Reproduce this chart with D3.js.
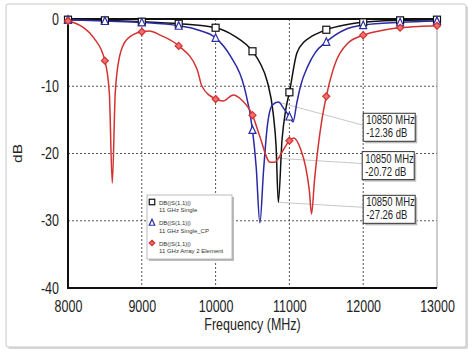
<!DOCTYPE html>
<html>
<head>
<meta charset="utf-8">
<script src="https://cdn.jsdelivr.net/npm/d3@7"></script>
<style>
  body { margin: 0; background: #fff; }
  svg { display: block; font-family: "Liberation Sans", Arial, sans-serif; }
</style>
</head>
<body>
<div id="chart"></div>
<script>
// values
const freqTicks = [8000, 9000, 10000, 11000, 12000, 13000];
const dbTicks = [0, -10, -20, -30, -40];

const singleFreq = [8000, 8500, 9000, 9500, 10000, 10250, 10500, 10600, 10700, 10780, 10820, 10850, 10900, 10950, 11000, 11100, 11200, 11300, 11500, 11750, 12000, 12500, 13000];
const singleDb = [-0.1, -0.2, -0.4, -0.7, -1.3, -2.5, -4.8, -6.5, -9.3, -14, -19, -27.26, -18, -13.5, -10.9, -5.1, -3.4, -2.6, -1.6, -0.9, -0.5, -0.2, -0.1];

const cpFreq = [8000, 8500, 9000, 9500, 9750, 10000, 10200, 10390, 10500, 10550, 10600, 10650, 10700, 10770, 10850, 10930, 11000, 11050, 11100, 11150, 11250, 11350, 11500, 11750, 12000, 12500, 13000];
const cpDb = [-0.1, -0.3, -0.5, -1.0, -1.6, -2.8, -5.5, -10.2, -16.5, -22, -30.3, -22.5, -16, -12.8, -12.36, -13.4, -14.5, -15.3, -12.5, -10, -7, -5, -3.4, -1.6, -0.9, -0.5, -0.3];

const arrayFreq = [8000, 8200, 8350, 8500, 8560, 8600, 8640, 8700, 8800, 9000, 9100, 9250, 9500, 9750, 9815, 10000, 10100, 10240, 10350, 10500, 10600, 10740, 10800, 10850, 10900, 11000, 11060, 11150, 11220, 11270, 11300, 11340, 11440, 11500, 11590, 11790, 12000, 12250, 12500, 12750, 13000];
const arrayDb = [-0.3, -1.2, -2.8, -6.2, -11, -24.4, -11, -5.5, -3, -1.9, -1.8, -2.4, -4.0, -7.5, -10, -11.9, -12.2, -11.3, -12, -14.3, -17.5, -21.3, -21.3, -20.72, -19.8, -18.1, -17.7, -19.3, -22, -25.5, -29, -24, -15, -11.5, -7.6, -3.6, -2.4, -1.7, -1.3, -1.1, -1.0];

const seriesNames = ["11 GHz Single", "11 GHz Single_CP", "11 GHz Array 2 Element"];
const seriesColors = ["#111111", "#2a2aa6", "#d23232"];

const markerFreq = 10850;
const markerDb = [-12.36, -20.72, -27.26];

const W = 474, H = 352;
const margin = { top: 19, right: 37, bottom: 64, left: 68 };
const width = W - margin.left - margin.right;
const height = H - margin.top - margin.bottom;

const root = d3.select("#chart").append("svg")
    .attr("width", W)
    .attr("height", H);

// outer frame with a soft shadow
root.append("rect").attr("x", 8).attr("y", 6).attr("width", 460).attr("height", 343)
    .attr("fill", "#d8d8d8").attr("rx", 2);
root.append("rect").attr("x", 6).attr("y", 4).attr("width", 460).attr("height", 343)
    .attr("fill", "#fff").attr("stroke", "#c8c8c8").attr("stroke-width", 1).attr("rx", 2);

const svg = root.append("g")
    .attr("transform", "translate(" + margin.left + "," + margin.top + ")");

const x = d3.scaleLinear().domain([8000, 13000]).range([0, width]);
const y = d3.scaleLinear().domain([-40, 0]).range([height, 0]);

// dotted grid
svg.selectAll(".vgrid")
    .data(freqTicks.slice(1, -1))
    .enter().append("line")
    .attr("x1", d => x(d)).attr("x2", d => x(d))
    .attr("y1", 0).attr("y2", height)
    .attr("stroke", "#555").attr("stroke-width", 1).attr("stroke-dasharray", "2,2");

svg.selectAll(".hgrid")
    .data(dbTicks.slice(1, -1))
    .enter().append("line")
    .attr("x1", 0).attr("x2", width)
    .attr("y1", d => y(d)).attr("y2", d => y(d))
    .attr("stroke", "#555").attr("stroke-width", 1).attr("stroke-dasharray", "2,2");

// axes (labels only, frame drawn below)
const xAxis = svg.append("g")
    .attr("transform", "translate(0," + height + ")")
    .call(d3.axisBottom(x).tickValues(freqTicks).tickSize(0).tickPadding(0).tickFormat(d => String(d)));
xAxis.select(".domain").remove();
xAxis.selectAll("text")
    .attr("y", 0).attr("dy", null)
    .attr("transform", "translate(0,24) scale(1,1.3)")
    .attr("font-size", 12.5).attr("fill", "#222");

const yAxis = svg.append("g")
    .call(d3.axisLeft(y).tickValues(dbTicks).tickSize(0).tickPadding(0).tickFormat(d => String(d)));
yAxis.select(".domain").remove();
yAxis.selectAll("text")
    .attr("x", 0).attr("dy", null)
    .attr("transform", "translate(-9,5) scale(1,1.3)")
    .attr("font-size", 12.5).attr("fill", "#222");

root.append("text")
    .attr("transform", "translate(" + (margin.left + width / 2) + ",330) scale(1,1.3)")
    .attr("text-anchor", "middle")
    .attr("font-size", 12.5).attr("fill", "#222")
    .text("Frequency (MHz)");

root.append("text")
    .attr("transform", "translate(22," + (margin.top + height / 2) + ") rotate(-90) scale(1.3,1)")
    .attr("text-anchor", "middle")
    .attr("font-size", 12).attr("fill", "#222")
    .text("dB");

// plot frame
svg.append("line").attr("x1", width).attr("x2", width).attr("y1", 0).attr("y2", height)
    .attr("stroke", "#999").attr("stroke-width", 1);
svg.append("path")
    .attr("d", "M" + width + ",0H0V" + height + "H" + width)
    .attr("fill", "none").attr("stroke", "#111").attr("stroke-width", 2);

// curves
const seriesData = [
    singleFreq.map((f, i) => ({ f: f, db: singleDb[i] })),
    cpFreq.map((f, i) => ({ f: f, db: cpDb[i] })),
    arrayFreq.map((f, i) => ({ f: f, db: arrayDb[i] }))
];

const line = d3.line()
    .x(d => x(d.f))
    .y(d => y(d.db))
    .curve(d3.curveMonotoneX);

// annotation leader lines (under curves)
const boxDb = [-16.1, -21.8, -28.3];
svg.selectAll(".leader")
    .data(markerDb)
    .enter().append("line")
    .attr("x1", x(markerFreq)).attr("y1", d => y(d))
    .attr("x2", x(12000)).attr("y2", (d, i) => y(boxDb[i]) - 2)
    .attr("stroke", "#c8c8c8").attr("stroke-width", 1);

seriesData.forEach((data, i) => {
    svg.append("path")
        .datum(data)
        .attr("fill", "none")
        .attr("stroke", seriesColors[i])
        .attr("stroke-width", 1.5)
        .attr("d", line);
});

function drawMarker(g, kind, cx, cy, s, color, filled) {
    if (kind === 0) {
        g.append("rect").attr("x", cx - s / 2).attr("y", cy - s / 2).attr("width", s).attr("height", s)
            .attr("fill", filled ? "#fff" : "none").attr("stroke", color).attr("stroke-width", 1.2);
    } else if (kind === 1) {
        g.append("path")
            .attr("d", "M" + cx + "," + (cy - s / 2 - 0.5) + "L" + (cx + s / 2) + "," + (cy + s / 2) + "L" + (cx - s / 2) + "," + (cy + s / 2) + "Z")
            .attr("fill", filled ? "#fff" : "none").attr("stroke", color).attr("stroke-width", 1.2);
    } else {
        g.append("path")
            .attr("d", "M" + cx + "," + (cy - s / 2) + "L" + (cx + s / 2) + "," + cy + "L" + cx + "," + (cy + s / 2) + "L" + (cx - s / 2) + "," + cy + "Z")
            .attr("fill", "#f07070").attr("stroke", color).attr("stroke-width", 1.2);
    }
}

seriesData.forEach((data, i) => {
    data.filter(d => d.f % 500 === 0).forEach(d => {
        drawMarker(svg, i, x(d.f), y(d.db), 7, seriesColors[i], true);
    });
});

// value boxes at 10850 MHz
markerDb.forEach((v, i) => {
    const bx = x(12000) - (i === 1 ? 1 : 0);
    const by = y(boxDb[i]) - 14;
    const g = svg.append("g");
    g.append("rect").attr("x", bx + 2).attr("y", by + 2).attr("width", 52).attr("height", 28).attr("fill", "#bbb");
    g.append("rect").attr("x", bx).attr("y", by).attr("width", 52).attr("height", 28)
        .attr("fill", "#fff").attr("stroke", "#333").attr("stroke-width", 1);
    g.append("text").attr("transform", "translate(" + (bx + 3) + "," + (by + 11) + ") scale(1,1.25)")
        .attr("font-size", 9.5).attr("fill", "#222").text(markerFreq + " MHz");
    g.append("text").attr("transform", "translate(" + (bx + 3) + "," + (by + 24) + ") scale(1,1.25)")
        .attr("font-size", 9.5).attr("fill", "#222").text(v.toFixed(2) + " dB");
});

// legend
const lg = root.append("g").attr("transform", "translate(147,195)");
lg.append("rect").attr("x", 2).attr("y", 2).attr("width", 85).attr("height", 64).attr("fill", "#bbb");
lg.append("rect").attr("width", 85).attr("height", 64).attr("fill", "#fff").attr("stroke", "#aaa").attr("stroke-width", 0.8);
seriesNames.forEach((name, i) => {
    const ly = 7 + i * 20.5;
    drawMarker(lg, i, 5, ly, 5.5, seriesColors[i], true);
    lg.append("text").attr("x", 12).attr("y", ly + 2.5).attr("font-size", 6).attr("fill", "#333").text("DB(|S(1,1)|)");
    lg.append("text").attr("x", 12).attr("y", ly + 10).attr("font-size", 6).attr("fill", "#333").text(name);
});
</script>
</body>
</html>
